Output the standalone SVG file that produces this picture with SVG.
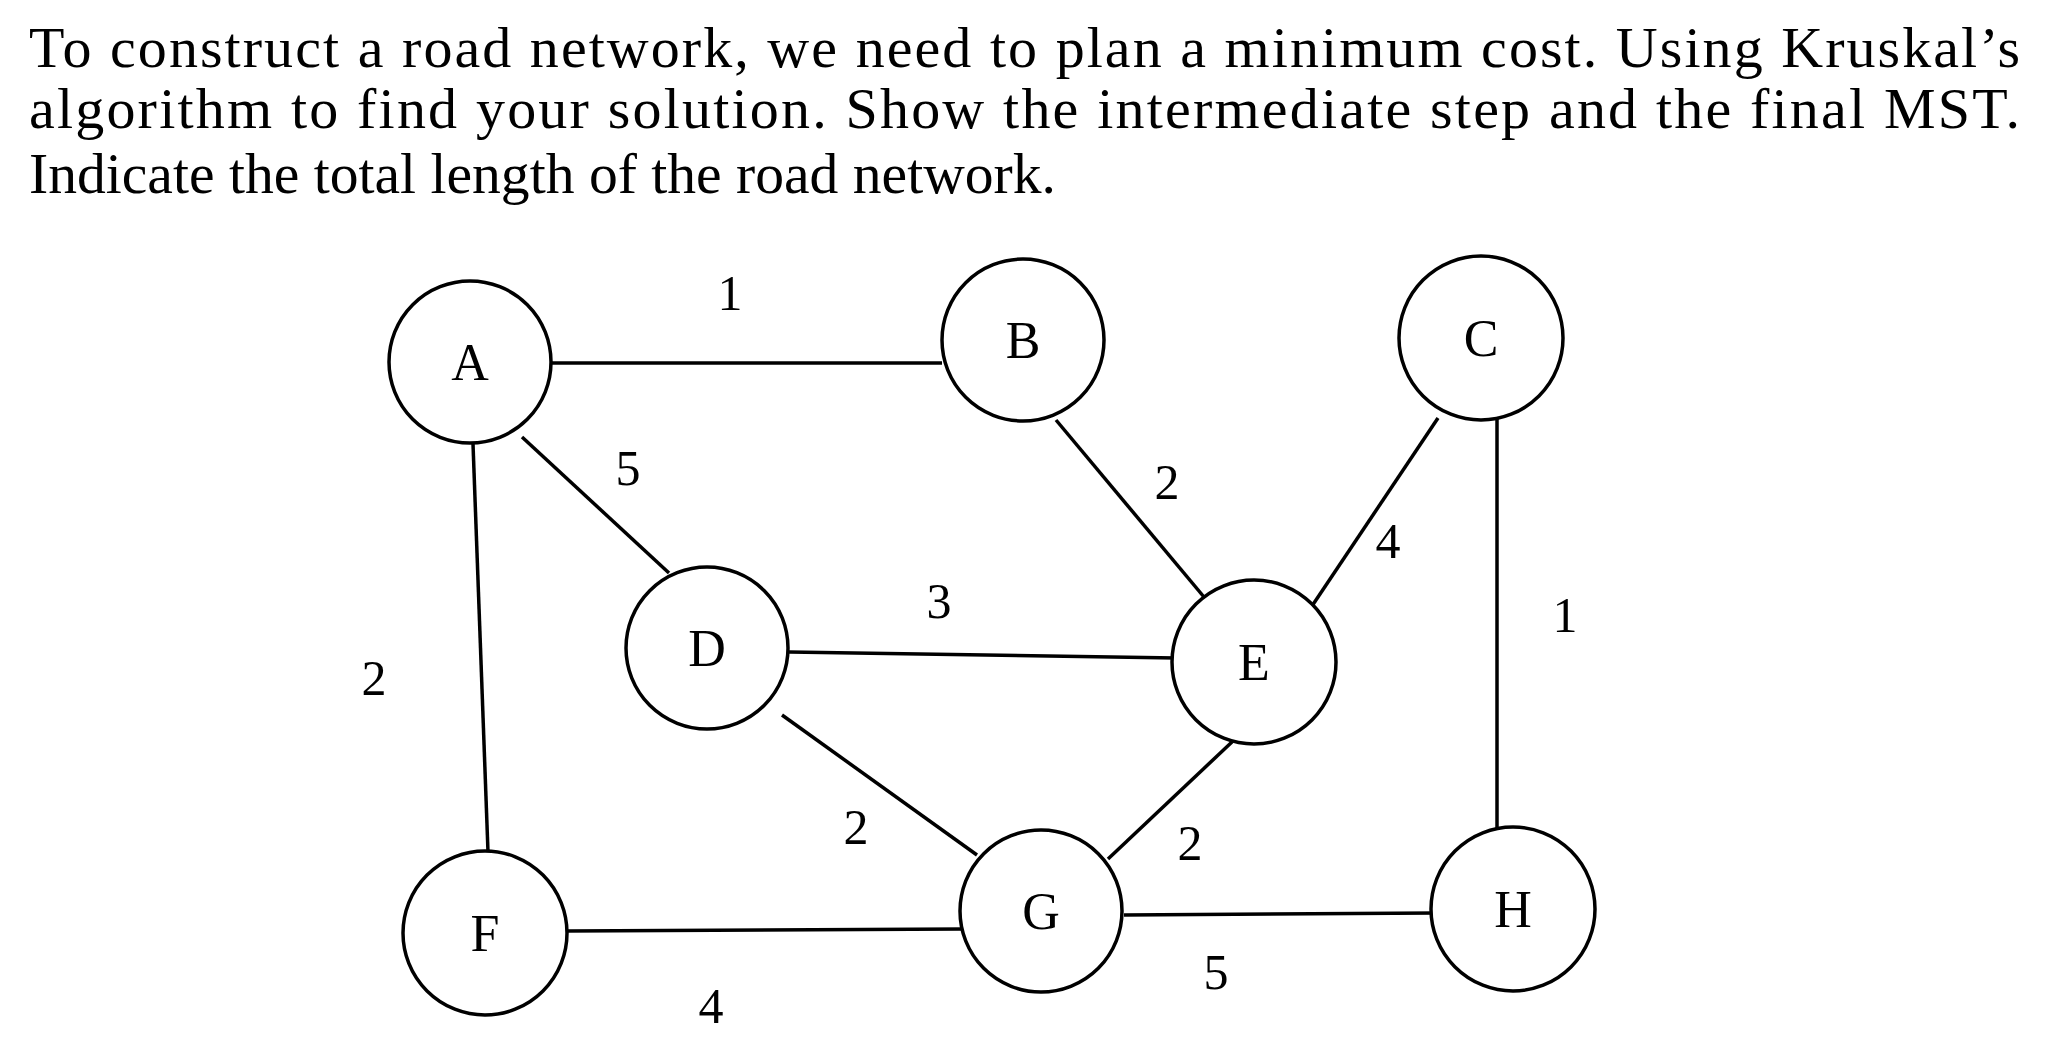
<svg xmlns="http://www.w3.org/2000/svg" width="2046" height="1057" viewBox="0 0 2046 1057">
<style>
text{font-family:"Liberation Serif","Times New Roman",serif;fill:#000}
.t{font-size:58px}
.n{font-size:52px;text-anchor:middle}
.w{font-size:50px;text-anchor:middle}
circle{fill:#fff;stroke:#000;stroke-width:3.5}
line{stroke:#000;stroke-width:3.5}
</style>
<rect width="2046" height="1057" fill="#fff"/>
<text class="t" x="29" y="67" textLength="1991" lengthAdjust="spacing">To construct a road network, we need to plan a minimum cost. Using Kruskal’s</text>
<text class="t" x="29" y="128" textLength="1991" lengthAdjust="spacing">algorithm to find your solution. Show the intermediate step and the final MST.</text>
<text class="t" x="29" y="193" textLength="1027" lengthAdjust="spacingAndGlyphs">Indicate the total length of the road network.</text>
<g id="edges">
<line x1="552" y1="363" x2="942" y2="363"/>
<line x1="522" y1="437" x2="669" y2="573"/>
<line x1="473" y1="444" x2="488" y2="852"/>
<line x1="1056" y1="420" x2="1209" y2="603"/>
<line x1="1438" y1="418" x2="1312" y2="606"/>
<line x1="1497" y1="417" x2="1497" y2="829"/>
<line x1="789" y1="652" x2="1176" y2="658"/>
<line x1="782" y1="715" x2="977" y2="855"/>
<line x1="1233" y1="741" x2="1108" y2="859"/>
<line x1="567" y1="931" x2="963" y2="929"/>
<line x1="1124" y1="915" x2="1436" y2="913"/>
<text class="w" x="730" y="310">1</text>
<text class="w" x="628" y="485">5</text>
<text class="w" x="374" y="695">2</text>
<text class="w" x="939" y="618">3</text>
<text class="w" x="1167" y="499">2</text>
<text class="w" x="1388" y="558">4</text>
<text class="w" x="1565" y="632">1</text>
<text class="w" x="856" y="844">2</text>
<text class="w" x="1190" y="860">2</text>
<text class="w" x="1216" y="989">5</text>
<text class="w" x="711" y="1023">4</text>
</g>
<g id="A"><circle cx="470" cy="362" r="81"/><text class="n" x="470" y="380">A</text></g>
<g id="B"><circle cx="1023" cy="340" r="81"/><text class="n" x="1023" y="358">B</text></g>
<g id="C"><circle cx="1481" cy="338" r="82"/><text class="n" x="1481" y="356">C</text></g>
<g id="D"><circle cx="707" cy="648" r="81"/><text class="n" x="707" y="666">D</text></g>
<g id="E"><circle cx="1254" cy="662" r="82"/><text class="n" x="1254" y="680">E</text></g>
<g id="F"><circle cx="485" cy="933" r="82"/><text class="n" x="485" y="951">F</text></g>
<g id="G"><circle cx="1041" cy="911" r="81"/><text class="n" x="1041" y="929">G</text></g>
<g id="H"><circle cx="1513" cy="909" r="82"/><text class="n" x="1513" y="927">H</text></g>
</svg>
